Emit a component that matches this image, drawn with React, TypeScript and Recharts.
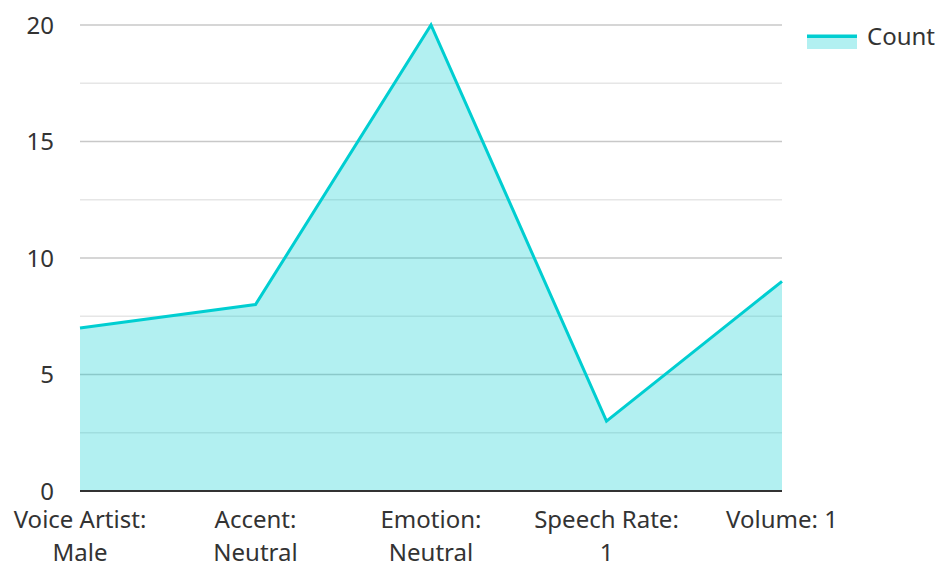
import React from "react";
import { AreaChart, Area, XAxis, YAxis, CartesianGrid } from "recharts";

const categories = ["Voice Artist: Male", "Accent: Neutral", "Emotion: Neutral", "Speech Rate: 1", "Volume: 1"];
const counts = [7, 8, 20, 3, 9];
const yTicks = [0, 5, 10, 15, 20];
const minorGrid = [2.5, 7.5, 12.5, 17.5];
const majorGrid = [5, 10, 15, 20];
const seriesName = "Count";

const data = categories.map((c, i) => ({ name: c, value: counts[i] }));

const FONT = "'Noto Sans', sans-serif";
const FS = 24;
const COLOR = "#00CED1";
const TEXT = "#333333";
const MAX_CHARS = 13;

function wrap(label: string): string[] {
  const words = label.split(" ");
  const lines: string[] = [];
  let cur = "";
  for (const w of words) {
    const next = cur ? cur + " " + w : w;
    if (next.length > MAX_CHARS && cur) {
      lines.push(cur);
      cur = w;
    } else {
      cur = next;
    }
  }
  if (cur) lines.push(cur);
  return lines;
}

const XTick = (props: any) => {
  const { x, y, payload } = props;
  const lines = wrap(String(payload.value));
  return (
    <text x={x} y={y} textAnchor="middle" fontFamily={FONT} fontSize={FS} fill={TEXT}>
      {lines.map((l, i) => (
        <tspan key={i} x={x} y={y + 29 + i * 33}>
          {l}
        </tspan>
      ))}
    </text>
  );
};

export default function App() {
  return (
    <div style={{ position: "absolute", left: 0, top: 0, width: 939, height: 565 }}>
      <AreaChart
        width={939}
        height={565}
        data={data}
        margin={{ top: 25, right: 157, bottom: 0, left: 0 }}
      >
        <CartesianGrid vertical={false} horizontalValues={minorGrid} stroke="#e6e6e6" strokeWidth={1.5} />
        <CartesianGrid vertical={false} horizontalValues={majorGrid} stroke="#c8c8c8" strokeWidth={1.5} />
        <XAxis
          dataKey="name"
          height={74}
          axisLine={{ stroke: "#333333", strokeWidth: 2 }}
          tickLine={false}
          interval={0}
          tick={<XTick />}
          padding={{ left: 0, right: 0 }}
        />
        <YAxis
          domain={[0, 20]}
          ticks={yTicks}
          width={80}
          axisLine={false}
          tickLine={false}
          tickMargin={20}
          tick={{ fontFamily: FONT, fontSize: FS, fill: TEXT }}
        />
        <Area
          type="linear"
          dataKey="value"
          name={seriesName}
          stroke={COLOR}
          strokeWidth={3}
          fill={COLOR}
          fillOpacity={0.3}
          isAnimationActive={false}
          dot={false}
          activeDot={false}
        />
      </AreaChart>
      <svg
        width={139}
        height={40}
        style={{ position: "absolute", left: 800, top: 15 }}
      >
        <rect x={7} y={23} width={50} height={11} fill={COLOR} fillOpacity={0.3} />
        <rect x={7} y={19.5} width={50} height={3.5} fill={COLOR} />
        <text x={67} y={30} fontFamily={FONT} fontSize={FS} fill={TEXT}>
          {seriesName}
        </text>
      </svg>
    </div>
  );
}
